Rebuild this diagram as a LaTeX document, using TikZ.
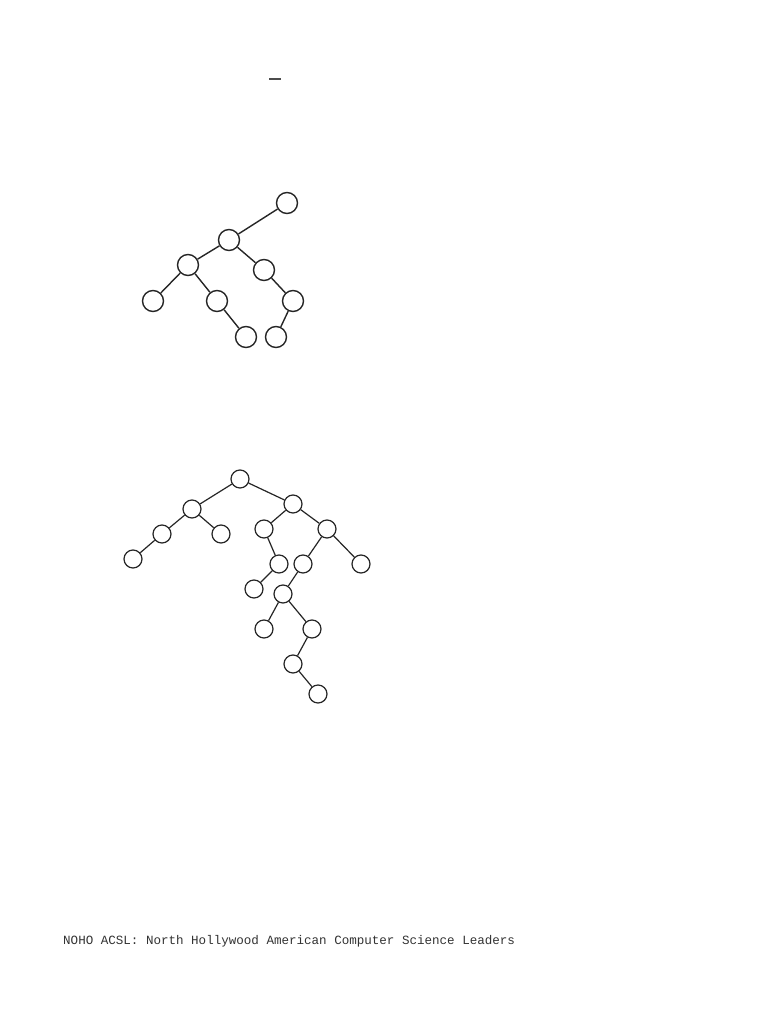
\documentclass[tikz,border=0pt]{standalone}
\usepackage{fontspec}
\newfontfamily\monofont{Liberation Mono}
\begin{document}
\begin{tikzpicture}[x=1pt,y=-1pt,
  bignode/.style={circle,draw=black!85,line width=1.4pt,minimum size=21pt,inner sep=0pt,fill=white},
  smallnode/.style={circle,draw=black!85,line width=1.2pt,minimum size=18pt,inner sep=0pt,fill=white},
  edge1/.style={draw=black!85,line width=1.4pt},
  edge2/.style={draw=black!85,line width=1.2pt}]
\useasboundingbox[fill=white] (0,0) rectangle (768,1024);
% small dash at top
\coordinate (d1) at (269,79);
\coordinate (d2) at (281,79);
\draw[line width=1.3pt,black!70] (d1) -- (d2);
% first tree
\node[bignode] (t0) at (287,203) {};
\node[bignode] (tA) at (229,240) {};
\node[bignode] (tB) at (188,265) {};
\node[bignode] (tC) at (264,270) {};
\node[bignode] (tD) at (153,301) {};
\node[bignode] (tE) at (217,301) {};
\node[bignode] (tF) at (293,301) {};
\node[bignode] (tG) at (246,337) {};
\node[bignode] (tH) at (276,337) {};
\path[edge1] (t0) -- (tA) (tA) -- (tB) (tA) -- (tC) (tB) -- (tD) (tB) -- (tE)
  (tE) -- (tG) (tC) -- (tF) (tF) -- (tH);
% second tree
\node[smallnode] (R) at (240,479) {};
\node[smallnode] (a) at (192,509) {};
\node[smallnode] (b) at (293,504) {};
\node[smallnode] (a1) at (162,534) {};
\node[smallnode] (a2) at (221,534) {};
\node[smallnode] (a11) at (133,559) {};
\node[smallnode] (b1) at (264,529) {};
\node[smallnode] (b2) at (327,529) {};
\node[smallnode] (b11) at (279,564) {};
\node[smallnode] (b111) at (254,589) {};
\node[smallnode] (b21) at (303,564) {};
\node[smallnode] (b22) at (361,564) {};
\node[smallnode] (b211) at (283,594) {};
\node[smallnode] (b2111) at (264,629) {};
\node[smallnode] (b2112) at (312,629) {};
\node[smallnode] (b21121) at (293,664) {};
\node[smallnode] (b211211) at (318,694) {};
\path[edge2] (R) -- (a) (R) -- (b) (a) -- (a1) (a) -- (a2) (a1) -- (a11)
  (b) -- (b1) (b) -- (b2) (b1) -- (b11) (b11) -- (b111) (b2) -- (b21) (b2) -- (b22)
  (b21) -- (b211) (b211) -- (b2111) (b211) -- (b2112) (b2112) -- (b21121)
  (b21121) -- (b211211);
% footer
\node[anchor=base west,inner sep=0pt,font=\monofont\fontsize{12.55}{15}\selectfont,text=black!80] (foot) at (63,944) {NOHO ACSL: North Hollywood American Computer Science Leaders};
\end{tikzpicture}
\end{document}
